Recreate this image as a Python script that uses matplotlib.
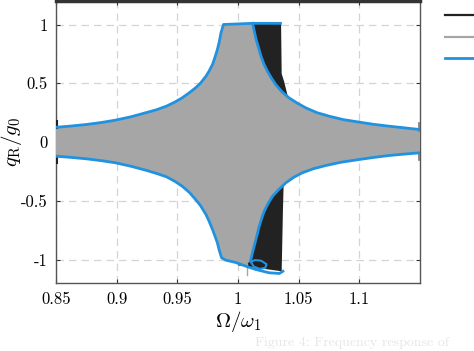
import numpy as np
import matplotlib
matplotlib.use("Agg")
import matplotlib.pyplot as plt
from matplotlib.lines import Line2D
import matplotlib.ticker as ticker

plt.rcParams['font.family'] = ['cmr10', 'DejaVu Serif']
plt.rcParams['mathtext.fontset'] = 'cm'
plt.rcParams['axes.unicode_minus'] = False

# envelope (Omega/omega_1, q_R/g_0)
upper_left_x = [0.85, 0.8625, 0.875, 0.8875, 0.899, 0.912, 0.924, 0.933, 0.941, 0.948, 0.954,
                0.96, 0.965, 0.969, 0.9736, 0.976, 0.979, 0.981, 0.983, 0.9845, 0.986, 0.987, 0.988]
upper_left_y = [0.125, 0.136, 0.149, 0.166, 0.186, 0.215, 0.249, 0.275, 0.305, 0.34, 0.376,
                0.42, 0.461, 0.50, 0.56, 0.60, 0.66, 0.72, 0.787, 0.85, 0.93, 0.965, 1.0]
top_flat_x = [0.988, 1.012, 1.035]
top_flat_y = [1.0, 1.01, 1.01]
upper_right_x = [1.012, 1.0135, 1.015, 1.017, 1.019, 1.0215, 1.0244, 1.0275, 1.031, 1.036, 1.042,
                 1.049, 1.056, 1.065, 1.075, 1.087, 1.1, 1.112, 1.125, 1.1375, 1.15]
upper_right_y = [1.01, 0.94, 0.87, 0.80, 0.73, 0.66, 0.60, 0.545, 0.49, 0.43, 0.376,
                 0.33, 0.29, 0.25, 0.22, 0.19, 0.169, 0.15, 0.134, 0.12, 0.106]
lower_left_x = [0.85, 0.8625, 0.875, 0.8875, 0.899, 0.912, 0.924, 0.933, 0.941, 0.948, 0.954,
                0.96, 0.965, 0.969, 0.9736, 0.976, 0.979, 0.981, 0.983, 0.9845, 0.9865]
lower_left_y = [-0.121, -0.131, -0.143, -0.159, -0.177, -0.207, -0.24, -0.268, -0.296, -0.335, -0.376,
                -0.43, -0.489, -0.54, -0.617, -0.67, -0.745, -0.80, -0.858, -0.92, -0.986]
bottom_x = [0.9865, 0.990, 0.998, 1.0065, 1.0147, 1.0257, 1.034, 1.037]
bottom_y = [-0.986, -1.006, -1.025, -1.057, -1.085, -1.113, -1.119, -1.10]
lower_right_x = [1.0106, 1.012, 1.0133, 1.0155, 1.0175, 1.0195, 1.0216, 1.025, 1.0285, 1.034, 1.0395,
                 1.046, 1.053, 1.062, 1.0724, 1.085, 1.0998, 1.112, 1.1245, 1.137, 1.15]
lower_right_y = [-1.0, -0.94, -0.887, -0.80, -0.717, -0.65, -0.589, -0.52, -0.461, -0.40, -0.347,
                 -0.30, -0.262, -0.228, -0.2, -0.172, -0.149, -0.131, -0.115, -0.103, -0.092]
# jump-up region of the up-sweep (black)
black_x = [1.0, 1.0355, 1.036, 1.038, 1.041, 1.0375, 1.037, 1.036, 1.0]
black_y = [1.01, 1.01, 0.58, 0.515, 0.39, -0.40, -0.60, -1.10, -1.05]
# small loop near the bottom of the lower branch
loop_x = [1.0105, 1.014, 1.019, 1.0235, 1.0225, 1.018, 1.013, 1.0105]
loop_y = [-1.02, -1.005, -1.01, -1.04, -1.07, -1.08, -1.06, -1.02]

blue = '#2192e0'
gray = '#a6a6a6'
dark = '#222222'

fig = plt.figure(figsize=(4.74, 3.51), dpi=100)
ax = fig.add_axes([56/474, 68/351, 364/474, 282/351])

ax.fill(black_x, black_y, color=dark, lw=0, zorder=2)

# gray band: the down-sweep response
gx = np.concatenate([upper_left_x, top_flat_x[1:2], upper_right_x[1:],
                     lower_right_x[::-1], [1.0065, 0.998, 0.990], lower_left_x[::-1]])
gy = np.concatenate([upper_left_y, top_flat_y[1:2], upper_right_y[1:],
                     lower_right_y[::-1], [-1.057, -1.025, -1.006], lower_left_y[::-1]])
ax.fill(gx, gy, color=gray, lw=0, zorder=3)
ax.plot([1.0075, 1.0075], [-1.04, -1.13], color=gray, lw=1, zorder=3)

# transients at the sweep ends
ax.plot([0.8505, 0.8505], [0.12, 0.18], color=dark, lw=1.5, zorder=4)
ax.plot([0.8505, 0.8505], [-0.12, -0.18], color=dark, lw=1.5, zorder=4)
ax.plot([1.1495, 1.1495], [0.09, 0.16], color='#777777', lw=1.2, zorder=4)
ax.plot([1.1495, 1.1495], [-0.09, -0.15], color='#777777', lw=1.2, zorder=4)

# blue envelope
lw_b = 2.0
ax.plot(upper_left_x + top_flat_x[1:], upper_left_y + top_flat_y[1:], color=blue, lw=lw_b, zorder=5)
ax.plot(upper_right_x, upper_right_y, color=blue, lw=lw_b, zorder=5)
ax.plot(lower_left_x + bottom_x[1:], lower_left_y + bottom_y[1:], color=blue, lw=lw_b, zorder=5)
ax.plot(lower_right_x, lower_right_y, color=blue, lw=lw_b, zorder=5)
ax.plot(loop_x, loop_y, color=blue, lw=1.5, zorder=5)

ax.set_xlim(0.85, 1.15)
ax.set_ylim(-1.2, 1.2)
ax.set_xticks([0.85, 0.9, 0.95, 1.0, 1.05, 1.1])
ax.set_yticks([-1, -0.5, 0, 0.5, 1])
fmt = ticker.FuncFormatter(lambda v, p: f'{v:g}')
ax.xaxis.set_major_formatter(fmt)
ax.yaxis.set_major_formatter(fmt)
ax.tick_params(direction='in', top=True, right=True, labelsize=12, length=3,
               color='#333333', pad=6)
ax.grid(True, color='#d4d4d4', ls=(0, (6, 4)), lw=0.9)
ax.set_axisbelow(True)
for s in ax.spines.values():
    s.set_color('#555555')
    s.set_linewidth(1.0)
ax.spines['top'].set_linewidth(2.5)
ax.spines['top'].set_color('#333333')

ax.set_xlabel(r'$\Omega/\omega_1$', fontsize=15, labelpad=2)
ax.set_ylabel(r'$q_\mathrm{R}/g_0$', fontsize=15)
ax.yaxis.set_label_coords(-0.088, 0.5)

# legend handles (labels fall outside the crop)
for yy, c, w in zip([15, 37, 58], [dark, gray, blue], [1.6, 1.6, 2.0]):
    fig.add_artist(Line2D([445/474, 1.0], [1 - yy/351, 1 - yy/351],
                          transform=fig.transFigure, color=c, lw=w))

fig.text(255/474, 8/351, 'Figure 4: Frequency response of', color='#e6e6e6',
         fontsize=10, va='center')

fig.savefig('out.png', dpi=100)
